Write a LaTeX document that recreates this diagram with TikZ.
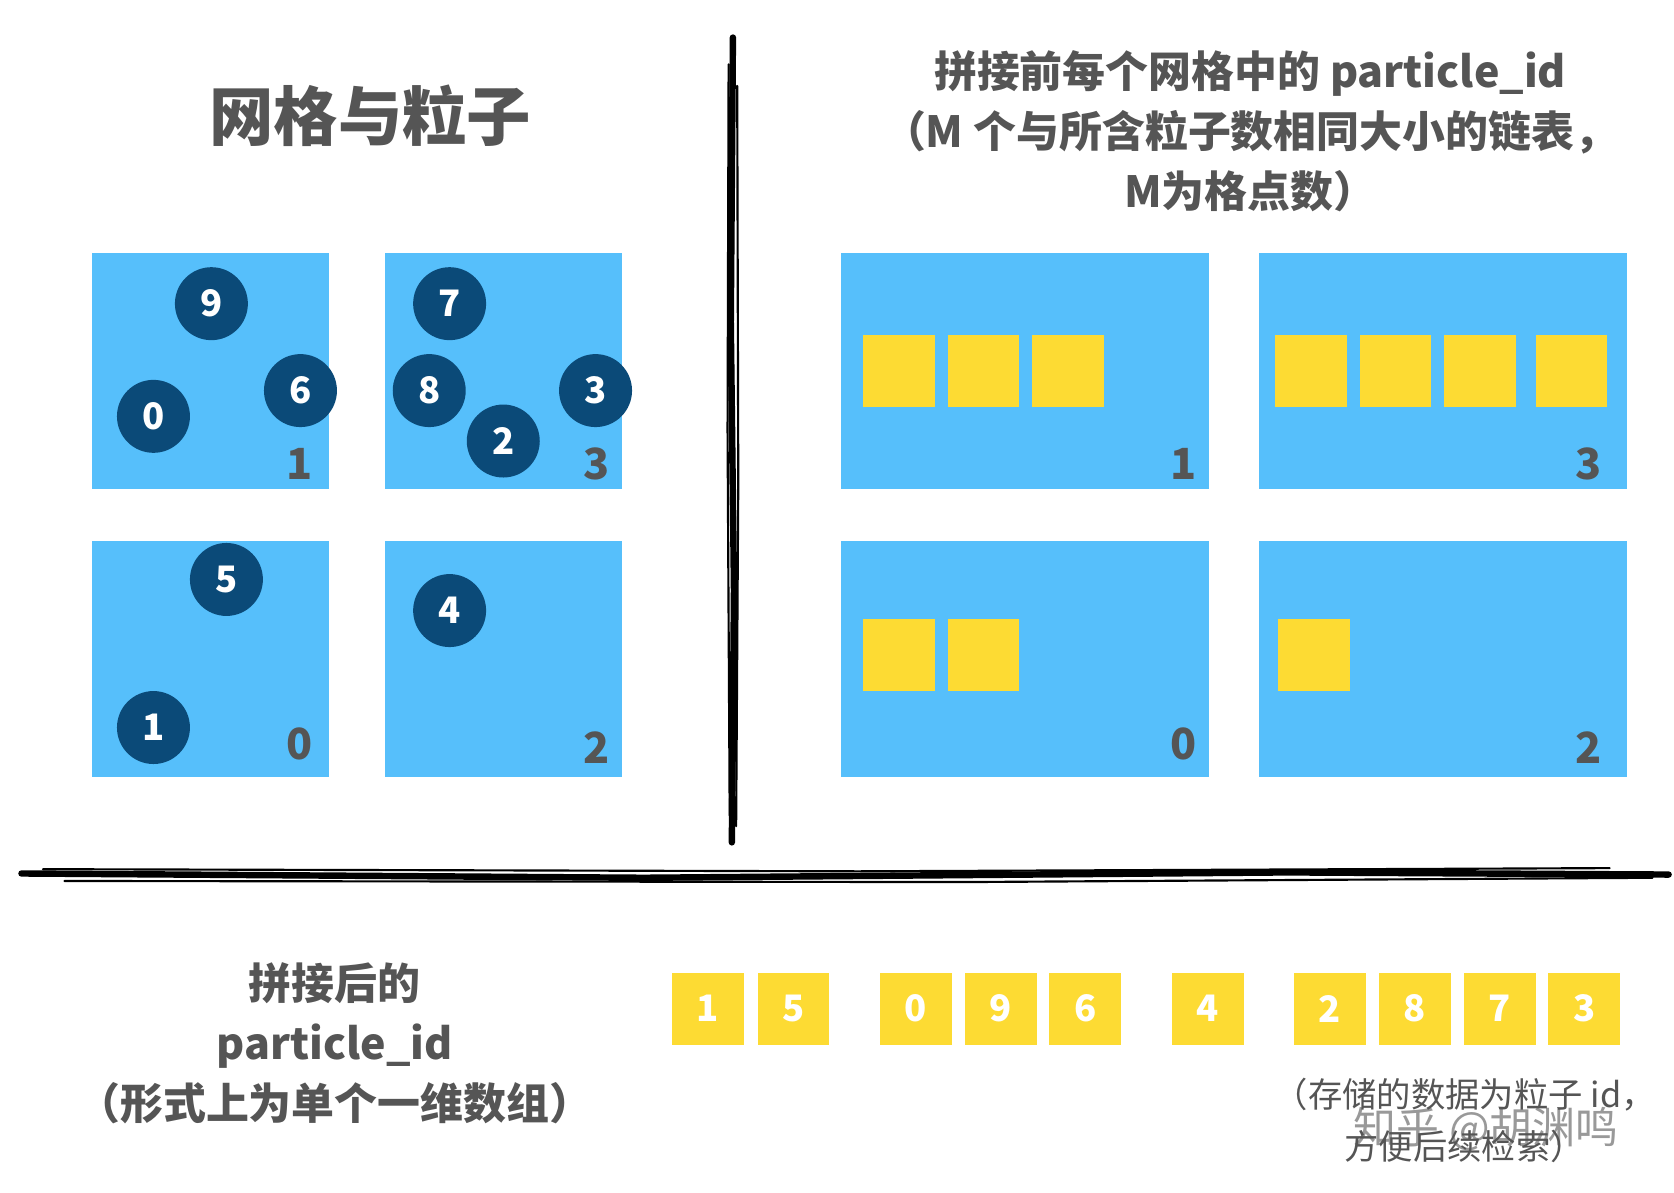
\documentclass[tikz,border=0pt]{standalone}
\usepackage{fontspec}
\setmainfont{Noto Sans CJK SC}
\definecolor{cellblue}{HTML}{56BFFB}
\definecolor{dotblue}{HTML}{0B4A78}
\definecolor{yel}{HTML}{FDDB33}
\definecolor{txt}{HTML}{555555}
\begin{document}
\begin{tikzpicture}[x=0.5pt,y=-0.5pt,
  cell/.style={fill=cellblue,draw=none},
  dot/.style={circle,fill=dotblue,minimum size=34pt,inner sep=0,text=white,font=\bfseries\fontsize{17}{17}\selectfont},
  corner/.style={text=txt,font=\bfseries\fontsize{20}{20}\selectfont},
  ybox/.style={fill=yel,minimum size=33.5pt,inner sep=0,text=white,font=\bfseries\fontsize{17}{17}\selectfont},
  ttl/.style={text=txt,font=\bfseries\fontsize{20}{24}\selectfont,align=center},
  brush/.style={black,line cap=round}]
\useasboundingbox (0,0) rectangle (1560,1111);
\node[text=txt,font=\bfseries\fontsize{30}{30}\selectfont] (t1) at (345,108) {网格与粒子};
% left grid
\foreach \n/\a/\b in {g1/86/236,g3/359/236,g0/86/504,g2/359/504}
  \fill[cell] (\a,\b) rectangle ++(221,220);
\node[corner] (l1) at (279,432) {1};
\node[corner] (l3) at (556,432) {3};
\node[corner] (l0) at (279,693) {0};
\node[corner] (l2) at (556,697) {2};
\foreach \t/\x/\y in {9/197/283,6/280/364,0/143/388,7/419/283,8/400/364,3/555/364,2/469/411,5/211/540,1/143/678,4/419/569}
  \node[dot] (d\t) at (\x,\y) {\t};
% right title
\node[ttl] (t2) at (1165,122) {拼接前每个网格中的 particle\_id\\[4pt]（M 个与所含粒子数相同大小的链表，\\[4pt]M为格点数）};
% right cells
\foreach \a/\b in {784/236,1173/236,784/504,1173/504}
  \fill[cell] (\a,\b) rectangle ++(343,220);
\node[corner] (r1) at (1103,432) {1};
\node[corner] (r3) at (1480,432) {3};
\node[corner] (r0) at (1103,693) {0};
\node[corner] (r2) at (1480,697) {2};
\foreach \x in {804,883,962} \node[ybox] at (\x+33.5,345.5) {};
\foreach \x in {1188,1267,1346,1431} \node[ybox] at (\x+33.5,345.5) {};
\foreach \x in {804,883} \node[ybox] at (\x+33.5,610.5) {};
\node[ybox] (rb) at (1224.5,610.5) {};
% brush lines
\draw[brush,line width=3pt] (683,35) -- (681,300) -- (684,550) -- (682,785);
\draw[brush,line width=1pt] (679,60) -- (678,400) -- (680,760);
\draw[brush,line width=1pt] (687,80) -- (688,450) -- (686,770);
\draw[brush,line width=3pt] (20,814) -- (600,818) -- (1200,813) -- (1555,815);
\draw[brush,line width=1pt] (40,810) -- (800,812) -- (1500,809);
\draw[brush,line width=1pt] (60,821) -- (900,822) -- (1540,818);
% bottom
\node[ttl,font=\bfseries\fontsize{20}{28}\selectfont] (t3) at (312,972) {拼接后的\\particle\_id\\（形式上为单个一维数组）};
\foreach \t/\x in {1/626,5/706,0/820,9/899,6/978,4/1092,2/1206,8/1285,7/1364,3/1443}
  \node[ybox] (b\t) at (\x+33.5,940) {\t};
\node[text=black!40,font=\fontsize{20}{20}\selectfont] (wm) at (1385,1052) {知乎 @胡渊鸣};
\node[text=txt,font=\fontsize{16}{24}\selectfont,align=center] (t4) at (1365,1044) {（存储的数据为粒子 id，\\方便后续检索）};
\end{tikzpicture}
\end{document}
